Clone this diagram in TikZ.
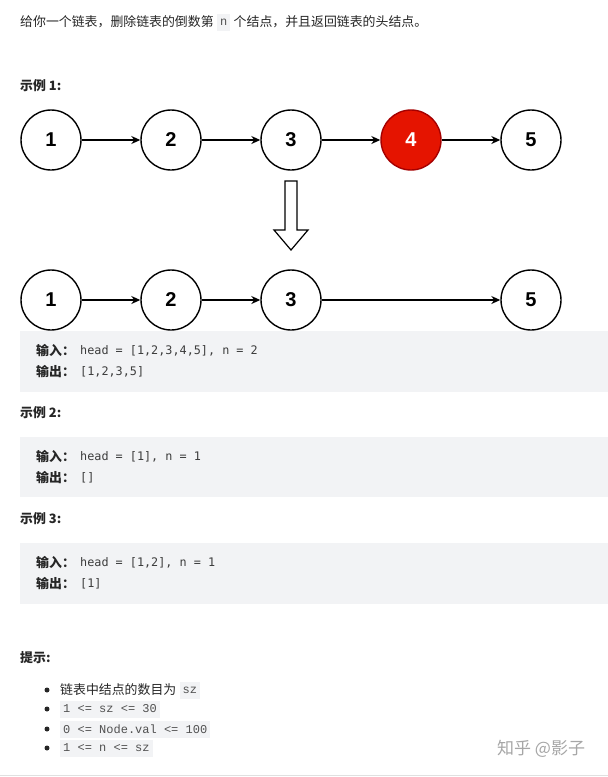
\documentclass[tikz,border=0pt]{standalone}
\usepackage{fontspec}
\setmainfont{Liberation Sans}
\newfontfamily\cjk{Noto Sans CJK SC}
\newfontfamily\codefont{DejaVu Sans Mono}
\newfontfamily\hintfont{Liberation Mono}
\usetikzlibrary{positioning,arrows.meta}
\definecolor{codebg}{HTML}{F2F3F5}
\definecolor{nodered}{HTML}{E51400}
\definecolor{nodeborder}{HTML}{A50000}
\definecolor{txt}{HTML}{262626}

\begin{document}
\begin{tikzpicture}[x=1pt,y=-1pt,
    ball/.style={circle,draw,line width=1.4pt,minimum size=60pt,inner sep=0pt,font=\fontsize{20}{20}\selectfont\bfseries},
    link/.style={-{Stealth[length=9pt,width=8pt]},line width=1.3pt},
    plain/.style={anchor=west,inner sep=0pt,text=txt,font=\cjk\fontsize{12.9}{14}\selectfont},
    heading/.style={plain,font=\cjk\fontsize{12.9}{14}\selectfont\bfseries},
    label/.style={plain,font=\cjk\fontsize{12.9}{14}\selectfont\bfseries},
    code/.style={anchor=west,inner sep=0pt,text=txt!90,font=\codefont\fontsize{11.8}{14}\selectfont},
    chip/.style={anchor=west,fill=codebg,inner xsep=3pt,inner ysep=0pt,minimum height=17pt,text=txt!80,font=\hintfont\fontsize{12}{14}\selectfont},
    dot/.style={circle,fill=txt,inner sep=0pt,minimum size=5pt}]

\useasboundingbox (0,0) rectangle (608,777);
\fill[white] (0,0) rectangle (608,777);

% Titre
\node[plain] (intro) at (20,22) {给你一个链表，删除链表的倒数第};
\node[chip,right=3pt of intro] (nvar) {n};
\node[plain,right=3pt of nvar] (intro2) {个结点，并且返回链表的头结点。};

\node[heading] (ex1) at (20,86) {示例 1:};

% Liste avant
\foreach \i/\x in {1/51,2/171,3/291,5/531} {
    \node[ball] (a\i) at (\x,140) {\i};
}
\node[ball,fill=nodered,draw=nodeborder,text=white] (a4) at (411,140) {4};
\foreach \i/\j in {1/2,2/3,3/4,4/5} {
    \draw[link] (a\i) -- (a\j);
}

% Fleche creuse
\draw[line width=1.2pt,fill=white]
    (285,181) -- (297,181) -- (297,230) -- (308,230) -- (291,250)
    -- (274,230) -- (285,230) -- cycle;

% Liste apres
\foreach \i/\x in {1/51,2/171,3/291,5/531} {
    \node[ball] (b\i) at (\x,300) {\i};
}
\draw[link] (b1) -- (b2);
\draw[link] (b2) -- (b3);
\draw[link] (b3) -- (b5);

% Exemples
\fill[codebg] (20,331) rectangle (608,392);
\node[label] (in1) at (36,351) {输入：};
\node[code] (head1) at (80,351) {head = [1,2,3,4,5], n = 2};
\node[label] (out1) at (36,372) {输出：};
\node[code] (res1) at (80,372) {[1,2,3,5]};

\node[heading] (ex2) at (20,413) {示例 2:};
\fill[codebg] (20,437) rectangle (608,497);
\node[label] (in2) at (36,457) {输入：};
\node[code] (head2) at (80,457) {head = [1], n = 1};
\node[label] (out2) at (36,478) {输出：};
\node[code] (res2) at (80,478) {[]};

\node[heading] (ex3) at (20,519) {示例 3:};
\fill[codebg] (20,543) rectangle (608,604);
\node[label] (in3) at (36,563) {输入：};
\node[code] (head3) at (80,563) {head = [1,2], n = 1};
\node[label] (out3) at (36,584) {输出：};
\node[code] (res3) at (80,584) {[1]};

% Indications
\node[heading] (hint) at (20,658) {提示:};
\foreach \y in {690,709,729,748} {
    \node[dot] at (47,\y) {};
}
\node[plain] (h1) at (60,690) {链表中结点的数目为};
\node[chip,right=3pt of h1] (sz) {sz};
\node[chip] (h2) at (60,709) {1 <= sz <= 30};
\node[chip] (h3) at (60,729) {0 <= Node.val <= 100};
\node[chip] (h4) at (60,748) {1 <= n <= sz};

\node[plain,text=black!35,font=\cjk\fontsize{17}{18}\selectfont] (mark) at (497,749) {知乎 @影子};

\draw[black!12,line width=1pt] (0,775) -- (608,775);

\end{tikzpicture}
\end{document}
